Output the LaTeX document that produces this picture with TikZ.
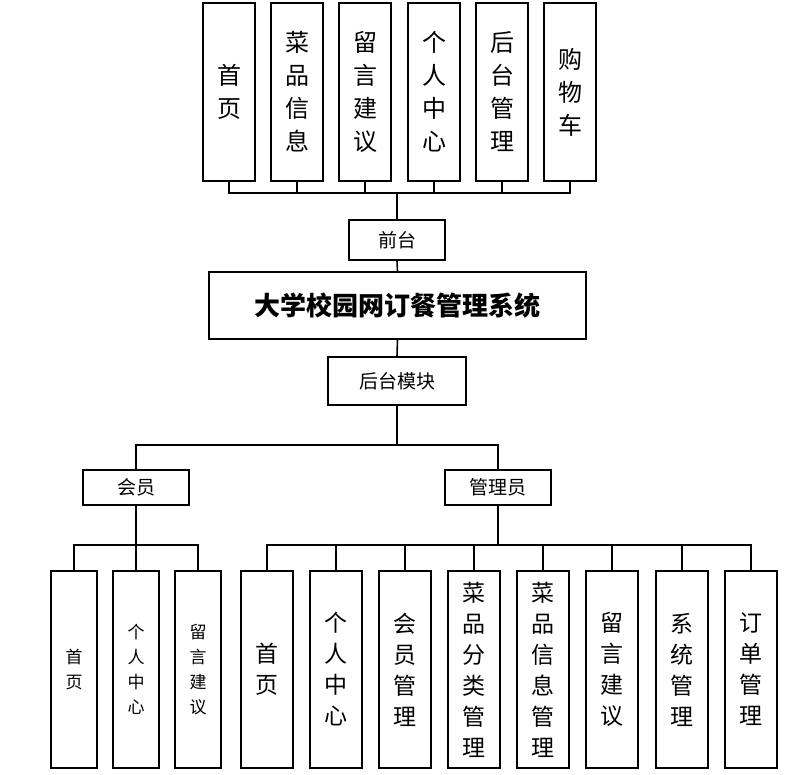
\documentclass[tikz,border=0pt]{standalone}
\usepackage{fontspec}
\newfontfamily\cjk{Noto Sans CJK SC}
\begin{document}
\begin{tikzpicture}[x=1pt,y=-1pt,
  box/.style={draw,line width=1.2pt,inner sep=0pt,align=center,font=\cjk},
  ln/.style={line width=1.6pt}]
\useasboundingbox (0,0) rectangle (806,775);
% top
\foreach \n/\x/\t in {t1/229/首\\页,t2/297/菜\\品\\信\\息,t3/365/留\\言\\建\\议,t4/434/个\\人\\中\\心,t5/502/后\\台\\管\\理,t6/570/购\\物\\车}
  {\node[box,minimum width=52,minimum height=178,font=\cjk\fontsize{24}{33}\selectfont] (\n) at (\x,92) {\t};}
\node[box,minimum width=96,minimum height=40,font=\cjk\fontsize{19}{22}\selectfont] (ft) at (397,240) {前台};
\node[box,minimum width=377,minimum height=67,font=\cjk\bfseries\fontsize{26}{30}\selectfont] (main) at (397.5,305.5) {大学校园网订餐管理系统};
\node[box,minimum width=138,minimum height=48,font=\cjk\fontsize{19}{22}\selectfont] (bk) at (397,381) {后台模块};
\node[box,minimum width=106,minimum height=35,font=\cjk\fontsize{19}{22}\selectfont] (hy) at (136,487.5) {会员};
\node[box,minimum width=106,minimum height=35,font=\cjk\fontsize{19}{22}\selectfont] (gl) at (498,487.5) {管理员};
\foreach \n/\x/\t in {m1/74/首\\页,m2/136/个\\人\\中\\心,m3/198/留\\言\\建\\议}
  {\node[box,minimum width=46,minimum height=197,font=\cjk\fontsize{17}{25}\selectfont] (\n) at (\x,669.5) {\t};}
\foreach \n/\x/\t in {a1/267/首\\页,a2/336/个\\人\\中\\心,a3/405/会\\员\\管\\理,a4/474/菜\\品\\分\\类\\管\\理,a5/543/菜\\品\\信\\息\\管\\理,a6/612/留\\言\\建\\议,a7/682/系\\统\\管\\理,a8/751/订\\单\\管\\理}
  {\node[box,minimum width=52,minimum height=197,font=\cjk\fontsize{23}{31}\selectfont] (\n) at (\x,669.5) {\t};}
% connectors
\coordinate (tb) at (397,193);
\draw[ln] (t1.south) |- (t6.south |- tb) -- (t6.south);
\foreach \n in {t2,t3,t4,t5} \draw[ln] (\n.south) -- (\n.south |- tb);
\draw[ln] (tb) -- (ft.north);
\draw[ln] (ft.south) -- (main.north);
\draw[ln] (main.south) -- (bk.north);
\coordinate (bb) at (397,445);
\draw[ln] (bk.south) -- (bb);
\draw[ln] (hy.north) |- (gl.north |- bb) -- (gl.north);
\coordinate (hb) at (136,545);
\draw[ln] (hy.south) -- (hb);
\draw[ln] (m1.north) |- (m3.north |- hb) -- (m3.north);
\draw[ln] (m2.north) -- (m2.north |- hb);
\coordinate (gb) at (498,545);
\draw[ln] (gl.south) -- (gb);
\draw[ln] (a1.north) |- (a8.north |- gb) -- (a8.north);
\foreach \n in {a2,a3,a4,a5,a6,a7} \draw[ln] (\n.north) -- (\n.north |- gb);
\end{tikzpicture}
\end{document}
